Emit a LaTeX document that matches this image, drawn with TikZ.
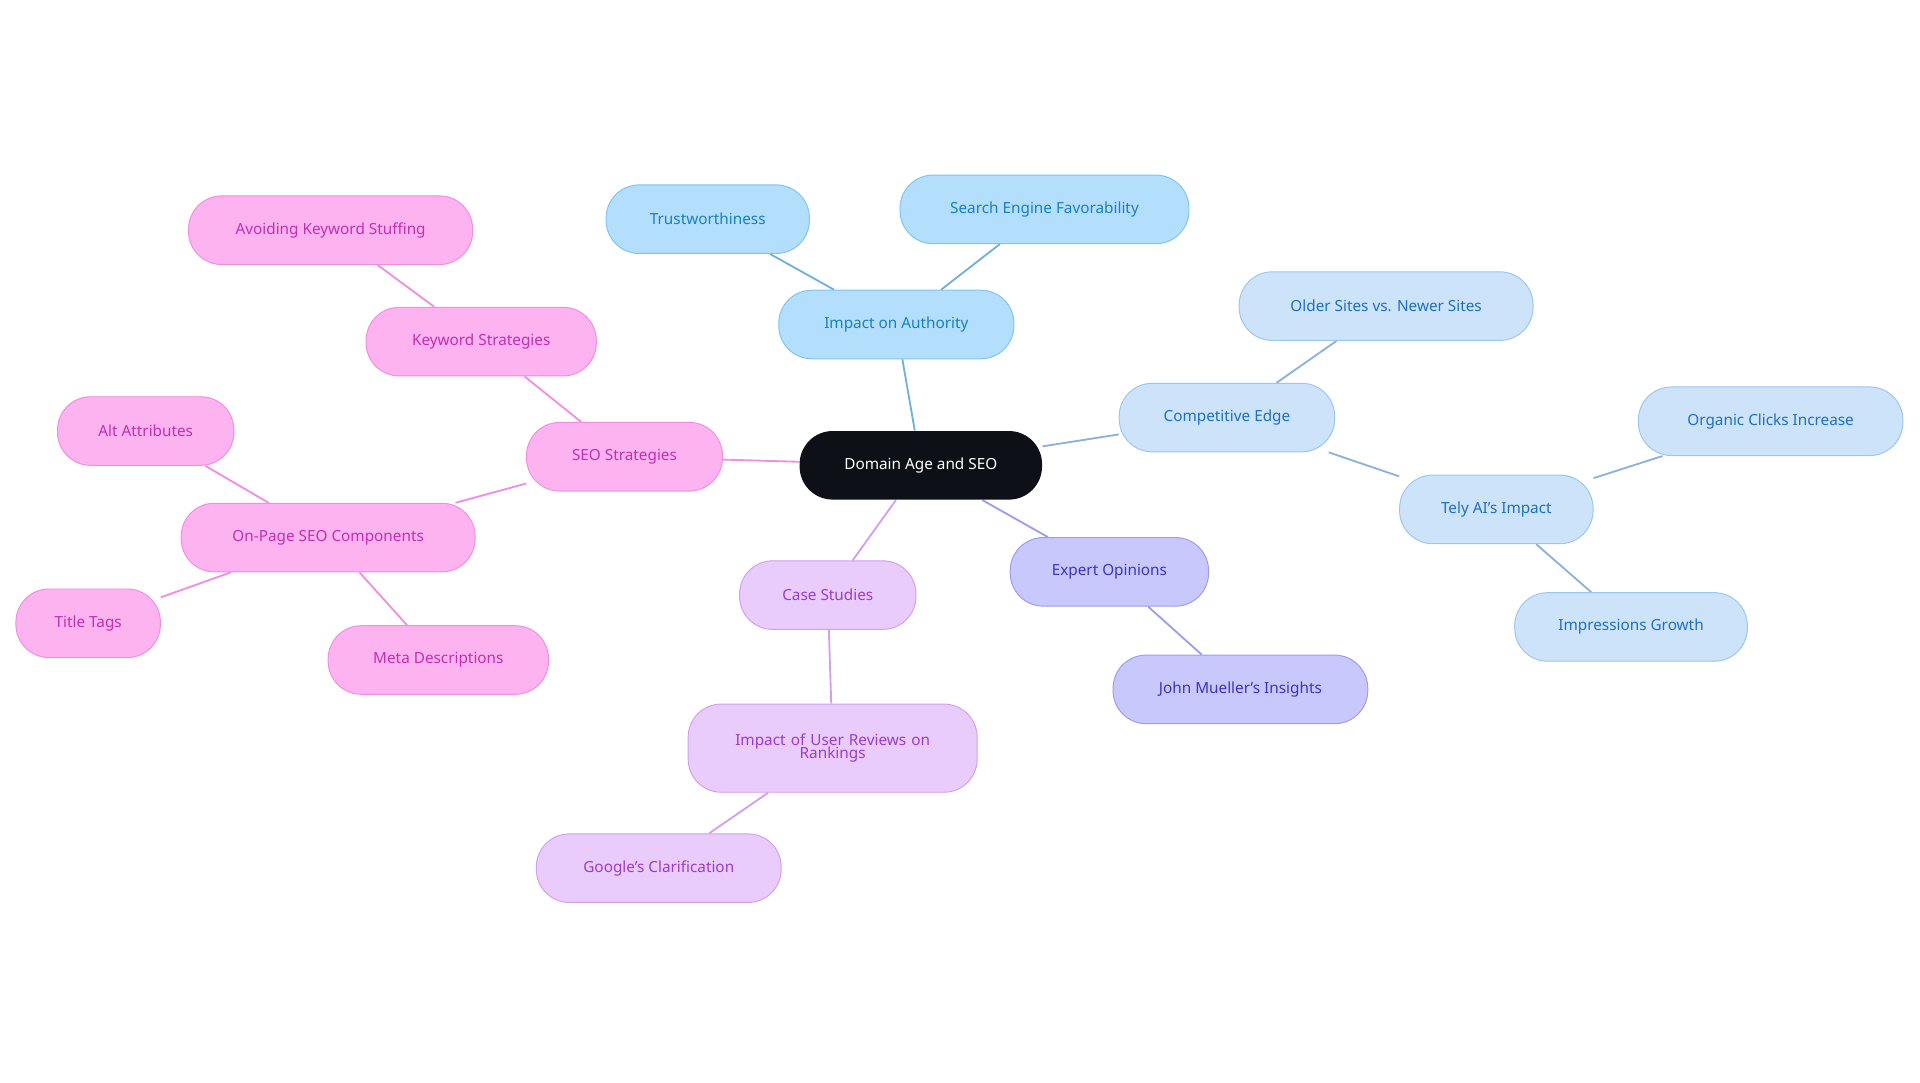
\documentclass[tikz,border=0pt]{standalone}
\usepackage{fontspec}
\setmainfont{Noto Sans}
\usetikzlibrary{backgrounds}
\definecolor{rootf}{HTML}{0D1117}
\definecolor{af}{HTML}{B3DFFC}\definecolor{ab}{HTML}{7FC4F0}\definecolor{at}{HTML}{1A7FBF}
\definecolor{cf}{HTML}{CCE3FA}\definecolor{cb}{HTML}{9CC6EF}\definecolor{ct}{HTML}{1F6FC0}
\definecolor{ef}{HTML}{C8C8FC}\definecolor{eb}{HTML}{9D9CF0}\definecolor{et}{HTML}{3B34C0}
\definecolor{sf}{HTML}{E9CCFC}\definecolor{sb}{HTML}{D29FF0}\definecolor{st}{HTML}{9A3CCC}
\definecolor{pf}{HTML}{FDB3F0}\definecolor{pb}{HTML}{F08EE0}\definecolor{pt}{HTML}{C22FB0}
\tikzset{
 base/.style={rounded corners=27pt,minimum height=56pt,inner sep=2pt,align=center,font=\fontsize{12.5}{14}\selectfont,line width=0.8pt},
 A/.style={base,fill=af,draw=ab,text=at},
 C/.style={base,fill=cf,draw=cb,text=ct},
 E/.style={base,fill=ef,draw=eb,text=et},
 S/.style={base,fill=sf,draw=sb,text=st},
 P/.style={base,fill=pf,draw=pb,text=pt},
 ea/.style={draw=ab!90!black,line width=1.5pt},
 ec/.style={draw=cb!90!black,line width=1.5pt},
 ee/.style={draw=eb,line width=1.5pt},
 es/.style={draw=sb,line width=1.5pt},
 ep/.style={draw=pb,line width=1.5pt},
}
\begin{document}
\begin{tikzpicture}[x=1pt,y=-1pt]
\useasboundingbox (0,0) rectangle (1568,884);
\node[base,fill=rootf,text=white,minimum width=198pt] (root) at (752,380) {Domain Age and SEO};
\node[A,minimum width=192pt] (ia) at (732,265) {Impact on Authority};
\node[A,minimum width=166pt] (tr) at (578,179) {Trustworthiness};
\node[A,minimum width=236pt] (sef) at (853,171) {Search Engine Favorability};
\node[C,minimum width=176pt] (ce) at (1002,341) {Competitive Edge};
\node[C,minimum width=240pt] (os) at (1132,250) {Older Sites vs. Newer Sites};
\node[C,minimum width=158pt] (ta) at (1222,416) {Tely AI's Impact};
\node[C,minimum width=216pt] (oc) at (1446,344) {Organic Clicks Increase};
\node[C,minimum width=190pt] (ig) at (1332,512) {Impressions Growth};
\node[E,minimum width=162pt] (eo) at (906,467) {Expert Opinions};
\node[E,minimum width=208pt] (jm) at (1013,563) {John Mueller's Insights};
\node[S,minimum width=144pt] (cs) at (676,486) {Case Studies};
\node[S,minimum width=236pt,minimum height=72pt,text width=200pt] (ur) at (680,611) {Impact of User Reviews on\\[-3pt]Rankings};
\node[S,minimum width=200pt] (gc) at (538,709) {Google's Clarification};
\node[P,minimum width=160pt] (ss) at (510,373) {SEO Strategies};
\node[P,minimum width=188pt] (ks) at (393,279) {Keyword Strategies};
\node[P,minimum width=232pt] (ak) at (270,188) {Avoiding Keyword Stuffing};
\node[P,minimum width=240pt] (op) at (268,439) {On-Page SEO Components};
\node[P,minimum width=144pt] (al) at (119,352) {Alt Attributes};
\node[P,minimum width=118pt] (tt) at (72,509) {Title Tags};
\node[P,minimum width=180pt] (md) at (358,539) {Meta Descriptions};
\begin{scope}[on background layer]
\draw[ea] (root) -- (ia); \draw[ea] (ia) -- (tr); \draw[ea] (ia) -- (sef);
\draw[ec] (root) -- (ce); \draw[ec] (ce) -- (os); \draw[ec] (ce) -- (ta);
\draw[ec] (ta) -- (oc); \draw[ec] (ta) -- (ig);
\draw[ee] (root) -- (eo); \draw[ee] (eo) -- (jm);
\draw[es] (root) -- (cs); \draw[es] (cs) -- (ur); \draw[es] (ur) -- (gc);
\draw[ep] (root) -- (ss); \draw[ep] (ss) -- (ks); \draw[ep] (ks) -- (ak);
\draw[ep] (ss) -- (op); \draw[ep] (op) -- (al); \draw[ep] (op) -- (tt); \draw[ep] (op) -- (md);
\end{scope}
\end{tikzpicture}
\end{document}
